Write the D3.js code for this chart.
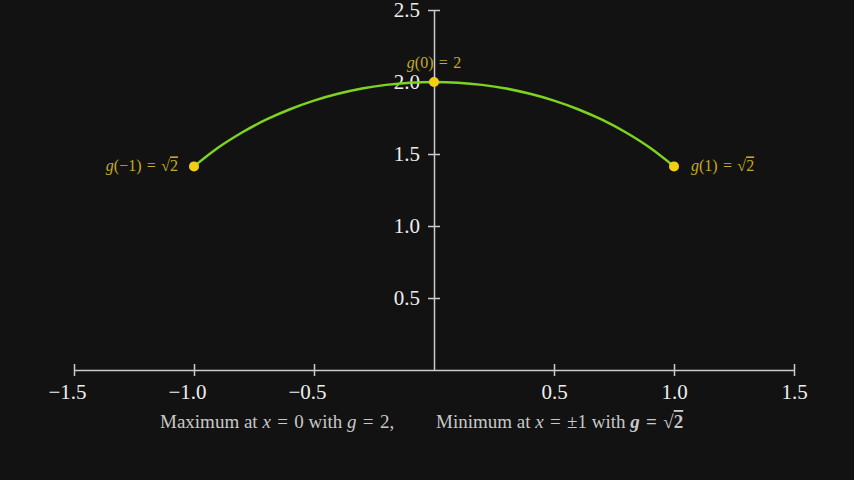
<!DOCTYPE html>
<html>
<head>
<meta charset="utf-8">
<script src="https://cdn.jsdelivr.net/npm/d3@7"></script>
<style>
  body { margin: 0; background: #121212; }
  svg { display: block; }
  .tick text { font-family: "Liberation Serif", serif; font-size: 21px; fill: #eeeeee; }
</style>
</head>
<body>
<div id="chart"></div>
<script>
const WIDTH = 854, HEIGHT = 480

// curve values
const xs = [-1.0, -0.9, -0.8, -0.7, -0.6, -0.5, -0.4, -0.3, -0.2, -0.1, 0.0, 0.1, 0.2, 0.3, 0.4, 0.5, 0.6, 0.7, 0.8, 0.9, 1.0]
const gs = [1.414, 1.543, 1.649, 1.738, 1.811, 1.871, 1.918, 1.955, 1.980, 1.995, 2.0, 1.995, 1.980, 1.955, 1.918, 1.871, 1.811, 1.738, 1.649, 1.543, 1.414]

// marked points
const markX = [-1, 0, 1]
const markG = [1.414, 2, 1.414]

const xTicks = [-1.5, -1.0, -0.5, 0.5, 1.0, 1.5]
const yTicks = [0.5, 1.0, 1.5, 2.0, 2.5]

const svg = d3.select("#chart").append("svg")
  .attr("width", WIDTH)
  .attr("height", HEIGHT)

svg.append("rect").attr("width", WIDTH).attr("height", HEIGHT).attr("fill", "#121212")

const x = d3.scaleLinear().domain([-1.5, 1.5]).range([74, 794])
const y = d3.scaleLinear().domain([0, 2.5]).range([370, 10])

const fmt = d => (d < 0 ? "\u2212" : "") + d3.format(".1f")(Math.abs(d))

// x axis
const xAxis = svg.append("g")
  .attr("transform", `translate(0, ${y(0)})`)
  .call(d3.axisBottom(x).tickValues(xTicks).tickFormat(fmt).tickSizeOuter(0))
xAxis.select(".domain").attr("stroke", "#cccccc").attr("stroke-width", 1.5)
xAxis.selectAll(".tick line").attr("stroke", "#cccccc").attr("stroke-width", 1.5).attr("y1", -6).attr("y2", 6)
xAxis.selectAll(".tick text").attr("y", 14).attr("x", d => d < 0 ? -7 : 0)

// y axis
const yAxis = svg.append("g")
  .attr("transform", `translate(${x(0)}, 0)`)
  .call(d3.axisLeft(y).tickValues(yTicks).tickFormat(d3.format(".1f")).tickSizeOuter(0))
yAxis.select(".domain").attr("stroke", "#cccccc").attr("stroke-width", 1.5)
yAxis.selectAll(".tick line").attr("stroke", "#cccccc").attr("stroke-width", 1.5).attr("x1", -6).attr("x2", 6)
yAxis.selectAll(".tick text").attr("x", -14)

// curve
const pts = xs.map((d, i) => ({ x: d, g: gs[i] }))
const line = d3.line()
  .x(d => x(d.x))
  .y(d => y(d.g))
  .curve(d3.curveMonotoneX)

svg.append("path")
  .attr("fill", "none")
  .attr("stroke", "#7ed321")
  .attr("stroke-width", 2.5)
  .attr("d", line(pts))

svg.selectAll(".mark")
  .data(markX.map((d, i) => ({ x: d, g: markG[i] })))
  .join("circle")
  .attr("class", "mark")
  .attr("cx", d => x(d.x))
  .attr("cy", d => y(d.g))
  .attr("r", 5)
  .attr("fill", "#f2d011")

// point labels
const labelColor = "#c4ab27"
const eq = "\u2004=\u2004"
function pointLabel(px, py, anchor, arg, val) {
  const t = svg.append("text")
    .attr("x", px).attr("y", py)
    .attr("text-anchor", anchor)
    .attr("font-family", "Liberation Serif, serif")
    .attr("font-size", 16)
    .attr("fill", labelColor)
  t.append("tspan").attr("font-style", "italic").text("g")
  t.append("tspan").text("(" + arg + ")" + eq)
  if (val === "sqrt2") {
    t.append("tspan").text("\u221A")
    t.append("tspan").style("text-decoration", "overline").text("2")
  } else {
    t.append("tspan").text(val)
  }
}
pointLabel(x(0), y(2) - 14, "middle", "0", "2")
pointLabel(x(-1) - 16, y(1.414) + 5, "end", "\u22121", "sqrt2")
pointLabel(x(1) + 17, y(1.414) + 5, "start", "1", "sqrt2")

// caption
const cap = svg.append("text")
  .attr("x", 160).attr("y", 428)
  .attr("font-family", "Liberation Serif, serif")
  .attr("font-size", 19)
  .attr("fill", "#c8c8c8")
cap.append("tspan").text("Maximum at ")
cap.append("tspan").attr("font-style", "italic").text("x")
cap.append("tspan").text(eq + "0 with ")
cap.append("tspan").attr("font-style", "italic").text("g")
cap.append("tspan").text(eq + "2,")
cap.append("tspan").attr("x", 436).text("Minimum at ")
cap.append("tspan").attr("font-style", "italic").text("x")
cap.append("tspan").text(eq + "\u00B11 with ")
cap.append("tspan").attr("font-weight", "bold").attr("font-style", "italic").text("g")
cap.append("tspan").attr("font-weight", "bold").text(eq + "\u221A")
cap.append("tspan").attr("font-weight", "bold").style("text-decoration", "overline").text("2")
</script>
</body>
</html>
